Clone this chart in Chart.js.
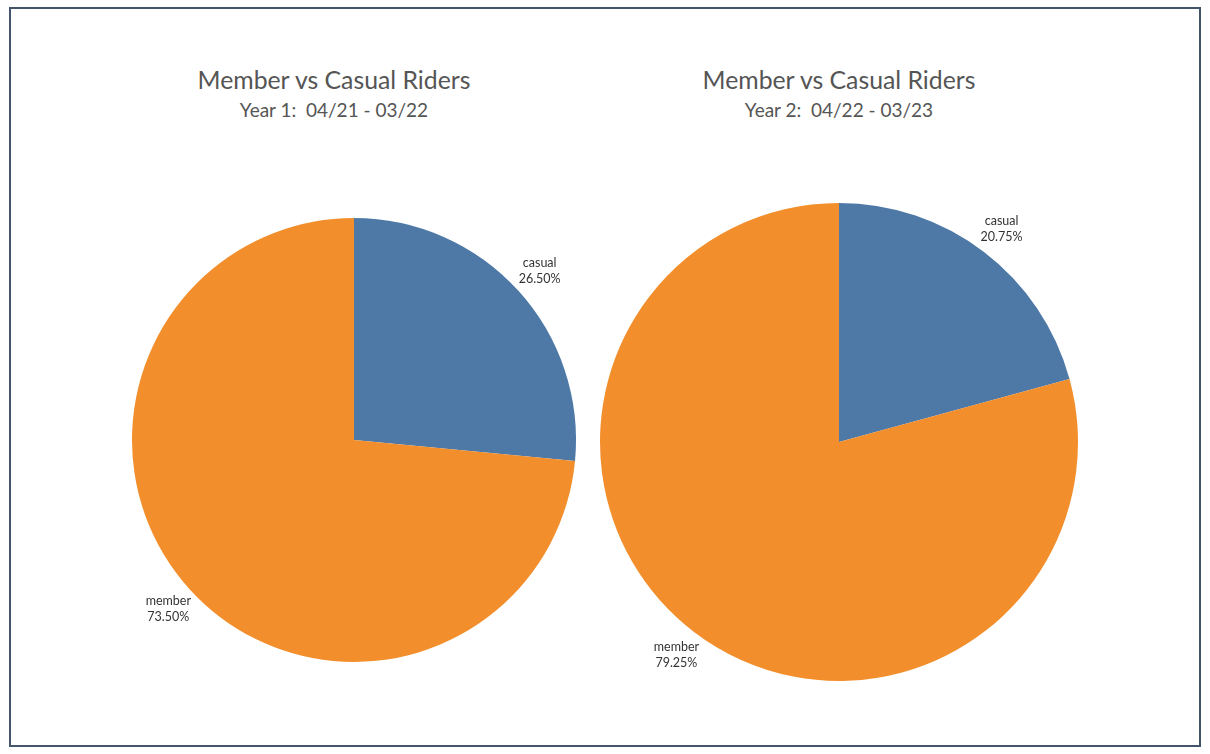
<!DOCTYPE html>
<html>
<head>
<meta charset="utf-8">
<script src="https://cdn.jsdelivr.net/npm/chart.js@4.4.0/dist/chart.umd.min.js"></script>
<style>
  body { margin: 0; background: #fff; font-family: Lato, "Open Sans", sans-serif; }
  #frame { position: absolute; left: 9px; top: 7px; width: 1188px; height: 736px; border: 2px solid #44546a; }
  .title { position: absolute; width: 400px; text-align: center; color: #555; white-space: pre; }
  .main { font-size: 24.8px; line-height: 28px; top: 66px; }
  .sub { font-size: 19px; line-height: 26px; top: 97px; }
  .pie { position: absolute; }
</style>
</head>
<body>
<div id="frame"></div>
<div class="title main" style="left:134px" id="t1"></div>
<div class="title sub" style="left:134px" id="s1"></div>
<div class="title main" style="left:639px" id="t2"></div>
<div class="title sub" style="left:639px" id="s2"></div>
<div class="pie" style="left:100px;top:186px;width:508px;height:508px"><canvas id="pie1"></canvas></div>
<div class="pie" style="left:568px;top:171px;width:542px;height:542px"><canvas id="pie2"></canvas></div>
<script>
// data
const riderTypes = ['casual', 'member'];
const year1Share = [26.50, 73.50];
const year2Share = [20.75, 79.25];
const chartTitle = 'Member vs Casual Riders';
const year1Label = 'Year 1:  04/21 - 03/22';
const year2Label = 'Year 2:  04/22 - 03/23';
const sliceColors = ['#4e79a7', '#f28e2b'];

document.getElementById('t1').textContent = chartTitle;
document.getElementById('t2').textContent = chartTitle;
document.getElementById('s1').textContent = year1Label;
document.getElementById('s2').textContent = year2Label;

// labels outside each slice, at the middle of the arc
const outsideLabels = {
  id: 'outsideLabels',
  afterDatasetsDraw(chart) {
    const ctx = chart.ctx;
    const meta = chart.getDatasetMeta(0);
    const values = chart.data.datasets[0].data;
    ctx.save();
    ctx.font = '12.5px Lato, "Open Sans", sans-serif';
    ctx.fillStyle = '#333';
    ctx.textAlign = 'center';
    ctx.textBaseline = 'middle';
    meta.data.forEach((arc, i) => {
      const p = arc.getProps(['x', 'y', 'startAngle', 'endAngle', 'outerRadius'], true);
      const mid = (p.startAngle + p.endAngle) / 2;
      const r = p.outerRadius + 29;
      const x = p.x + Math.cos(mid) * r;
      const y = p.y + Math.sin(mid) * r;
      ctx.fillText(chart.data.labels[i], x, y - 8);
      ctx.fillText(values[i].toFixed(2) + '%', x, y + 8);
    });
    ctx.restore();
  }
};

function makePie(id, values) {
  return new Chart(document.getElementById(id), {
    type: 'pie',
    data: {
      labels: riderTypes,
      datasets: [{
        data: values,
        backgroundColor: sliceColors,
        borderWidth: 0
      }]
    },
    options: {
      responsive: true,
      maintainAspectRatio: false,
      animation: false,
      layout: { padding: 32 },
      events: [],
      plugins: {
        legend: { display: false },
        tooltip: { enabled: false }
      }
    },
    plugins: [outsideLabels]
  });
}

makePie('pie1', year1Share);
makePie('pie2', year2Share);
</script>
</body>
</html>
